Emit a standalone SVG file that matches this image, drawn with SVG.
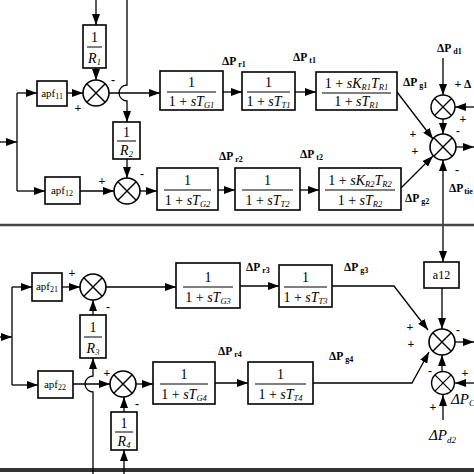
<svg xmlns="http://www.w3.org/2000/svg" width="474" height="474" viewBox="0 0 474 474">
<style>
.b{fill:#fff;stroke:#000;stroke-width:1.6}
.s{fill:#fff;stroke:#000;stroke-width:1.6}
.x{stroke:#000;stroke-width:1.4}
.c{fill:none;stroke:#000;stroke-width:1.3}
.ca{fill:none;stroke:#000;stroke-width:1.3;marker-end:url(#ah)}
.bar{stroke:#000;stroke-width:1}
text{font-family:"Liberation Serif","Times New Roman",serif;fill:#000}
.f{font-size:14px;text-anchor:middle}
.i{font-style:italic}
.sub{font-size:8.5px;font-style:italic}
.ap{font-size:11px;text-anchor:middle}
.aps{font-size:8px}
.lb{font-size:11.5px;font-weight:bold}
.lbs{font-size:8px;font-weight:bold}
.sg{font-size:12px;font-weight:bold;text-anchor:middle}
.it{font-size:15px;font-style:italic}
.its{font-size:9px;font-style:italic}
</style>
<defs>
<marker id="ah" markerWidth="11" markerHeight="8" refX="11" refY="4" orient="auto" markerUnits="userSpaceOnUse">
<path d="M0,0 L11,4 L0,8 z" fill="#000"/>
</marker>
<g id="sumsym"><circle r="13" class="s"/><path d="M-9.2,-9.2 L9.2,9.2 M-9.2,9.2 L9.2,-9.2" class="x"/></g>
</defs>
<rect width="474" height="474" fill="#fff"/>

<g id="connectors">
<path class="ca" d="M96,0 V25"/>
<path class="ca" d="M96,68 V80"/>
<path class="ca" d="M127,0 V85 A8,8 0 0 0 127,101 V122"/>
<path class="ca" d="M0,142 H17"/>
<path class="c" d="M17,93 V191"/>
<path class="ca" d="M17,93 H37"/>
<path class="ca" d="M17,191 H45"/>
<path class="ca" d="M67,93 H83"/>
<path class="ca" d="M109,93 H160"/>
<path class="ca" d="M223,92 H242"/>
<path class="ca" d="M295,92 H316"/>
<path class="ca" d="M397,92 L433,139"/>
<path class="ca" d="M443,58 V95"/>
<path class="ca" d="M474,107 H455"/>
<path class="ca" d="M443,119 V134"/>
<path class="ca" d="M456,147 H474"/>
<path class="ca" d="M401,188 L433,156"/>
<path class="ca" d="M443,226 V160"/>
<path class="ca" d="M443,226 V262"/>
<path class="ca" d="M80,191 H114"/>
<path class="ca" d="M127,159 V178"/>
<path class="ca" d="M140,191 H157"/>
<path class="ca" d="M218,190 H235"/>
<path class="ca" d="M300,190 H319"/>
<path d="M0,225 H474" stroke="#444" stroke-width="2.5"/>
<path d="M0,470 H474" stroke="#333" stroke-width="4"/>
<path class="ca" d="M0,337 H12"/>
<path class="c" d="M12,287 V385"/>
<path class="ca" d="M12,287 H32"/>
<path class="ca" d="M12,385 H38"/>
<path class="ca" d="M62,287 H80"/>
<path class="ca" d="M106,287 H176"/>
<path class="ca" d="M240,286 H279"/>
<path class="ca" d="M332,286 H394 L428,330"/>
<path class="ca" d="M93,315 V300"/>
<path class="ca" d="M93,474 V392 A8,8 0 0 1 93,376 V358"/>
<path class="ca" d="M73,384 H110"/>
<path class="ca" d="M136,384 H153"/>
<path class="ca" d="M215,383 H248"/>
<path class="ca" d="M313,383 H412 L429,352"/>
<path class="ca" d="M124,412 V397"/>
<path class="ca" d="M124,474 V450"/>
<path class="ca" d="M442,288 V329"/>
<path class="ca" d="M455,342 H474"/>
<path class="ca" d="M442,372 V355"/>
<path class="ca" d="M474,383 H455"/>
<path class="ca" d="M443,420 V395"/>
</g>

<g id="R1"><rect class="b" x="83" y="25" width="23" height="43"/><text class="f" x="94.5" y="42">1</text><line class="bar" x1="87" y1="47" x2="102" y2="47"/><text class="f" x="94.5" y="63"><tspan class="i">R</tspan><tspan class="sub" dy="2">1</tspan></text></g>
<g id="sum1"><use href="#sumsym" x="96" y="93"/></g>
<g id="apf11"><rect class="b" x="37" y="81" width="30" height="25"/><text class="ap" x="52" y="97">apf<tspan class="aps" dy="2">11</tspan></text></g>
<g id="G1"><rect class="b" x="160" y="71" width="63" height="39"/><text class="f" x="191.5" y="87">1</text><line class="bar" x1="167" y1="92" x2="216" y2="92"/><text class="f" x="191.5" y="106">1 + <tspan class="i">sT</tspan><tspan class="sub" dy="2">G1</tspan></text></g>
<g id="T1"><rect class="b" x="242" y="72" width="53" height="38"/><text class="f" x="268.5" y="87">1</text><line class="bar" x1="247" y1="92" x2="290" y2="92"/><text class="f" x="268.5" y="106">1 + <tspan class="i">sT</tspan><tspan class="sub" dy="2">T1</tspan></text></g>
<g id="Rh1"><rect class="b" x="316" y="72" width="81" height="38"/><text class="f" x="356.5" y="88">1 + <tspan class="i">sK</tspan><tspan class="sub" dy="2">R1</tspan><tspan class="i" dy="-2">T</tspan><tspan class="sub" dy="2">R1</tspan></text><line class="bar" x1="322" y1="93" x2="391" y2="93"/><text class="f" x="356.5" y="106">1 + <tspan class="i">sT</tspan><tspan class="sub" dy="2">R1</tspan></text></g>
<g id="sumd1"><use href="#sumsym" transform="translate(443,107) scale(0.92)"/></g>
<g id="summain1"><use href="#sumsym" x="443" y="147"/></g>

<g id="R2"><rect class="b" x="113" y="122" width="27" height="37"/><text class="f" x="126.5" y="137">1</text><line class="bar" x1="117" y1="141" x2="136" y2="141"/><text class="f" x="126.5" y="155"><tspan class="i">R</tspan><tspan class="sub" dy="2">2</tspan></text></g>
<g id="apf12"><rect class="b" x="45" y="177" width="35" height="27"/><text class="ap" x="62" y="194">apf<tspan class="aps" dy="2">12</tspan></text></g>
<g id="sum2"><use href="#sumsym" x="127" y="191"/></g>
<g id="G2"><rect class="b" x="157" y="168" width="61" height="42"/><text class="f" x="187.5" y="185">1</text><line class="bar" x1="164" y1="190" x2="211" y2="190"/><text class="f" x="187.5" y="205">1 + <tspan class="i">sT</tspan><tspan class="sub" dy="2">G2</tspan></text></g>
<g id="T2"><rect class="b" x="235" y="168" width="65" height="42"/><text class="f" x="267.5" y="185">1</text><line class="bar" x1="242" y1="190" x2="293" y2="190"/><text class="f" x="267.5" y="205">1 + <tspan class="i">sT</tspan><tspan class="sub" dy="2">T2</tspan></text></g>
<g id="Rh2"><rect class="b" x="319" y="168" width="82" height="42"/><text class="f" x="360" y="185">1 + <tspan class="i">sK</tspan><tspan class="sub" dy="2">R2</tspan><tspan class="i" dy="-2">T</tspan><tspan class="sub" dy="2">R2</tspan></text><line class="bar" x1="325" y1="190" x2="395" y2="190"/><text class="f" x="360" y="205">1 + <tspan class="i">sT</tspan><tspan class="sub" dy="2">R2</tspan></text></g>

<g id="apf21"><rect class="b" x="32" y="273" width="30" height="28"/><text class="ap" x="47" y="290">apf<tspan class="aps" dy="2">21</tspan></text></g>
<g id="sum3"><use href="#sumsym" x="93" y="287"/></g>
<g id="G3"><rect class="b" x="176" y="263" width="64" height="45"/><text class="f" x="208" y="282">1</text><line class="bar" x1="183" y1="287" x2="233" y2="287"/><text class="f" x="208" y="302">1 + <tspan class="i">sT</tspan><tspan class="sub" dy="2">G3</tspan></text></g>
<g id="T3"><rect class="b" x="279" y="265" width="53" height="42"/><text class="f" x="305.5" y="282">1</text><line class="bar" x1="284" y1="287" x2="327" y2="287"/><text class="f" x="305.5" y="302">1 + <tspan class="i">sT</tspan><tspan class="sub" dy="2">T3</tspan></text></g>
<g id="R3"><rect class="b" x="80" y="315" width="26" height="43"/><text class="f" x="93" y="332">1</text><line class="bar" x1="84" y1="337" x2="102" y2="337"/><text class="f" x="93" y="353"><tspan class="i">R</tspan><tspan class="sub" dy="2">3</tspan></text></g>
<g id="apf22"><rect class="b" x="38" y="371" width="35" height="27"/><text class="ap" x="55" y="388">apf<tspan class="aps" dy="2">22</tspan></text></g>
<g id="sum4"><use href="#sumsym" x="123" y="384"/></g>
<g id="G4"><rect class="b" x="153" y="362" width="62" height="42"/><text class="f" x="184" y="379">1</text><line class="bar" x1="160" y1="384" x2="208" y2="384"/><text class="f" x="184" y="399">1 + <tspan class="i">sT</tspan><tspan class="sub" dy="2">G4</tspan></text></g>
<g id="T4"><rect class="b" x="248" y="362" width="65" height="42"/><text class="f" x="280.5" y="379">1</text><line class="bar" x1="255" y1="384" x2="306" y2="384"/><text class="f" x="280.5" y="399">1 + <tspan class="i">sT</tspan><tspan class="sub" dy="2">T4</tspan></text></g>
<g id="R4"><rect class="b" x="111" y="412" width="26" height="38"/><text class="f" x="124" y="428">1</text><line class="bar" x1="115" y1="432" x2="133" y2="432"/><text class="f" x="124" y="446"><tspan class="i">R</tspan><tspan class="sub" dy="2">4</tspan></text></g>
<g id="a12"><rect class="b" x="424" y="262" width="35" height="26"/><text class="ap" x="441.5" y="279" style="font-size:12px">a12</text></g>
<g id="summain2"><use href="#sumsym" x="442" y="342"/></g>
<g id="sumd2"><use href="#sumsym" transform="translate(443,383) scale(0.88)"/></g>

<g id="labels">
<text class="lb" x="222" y="65">ΔP<tspan class="lbs" dx="2" dy="2">r1</tspan></text>
<text class="lb" x="293" y="61">ΔP<tspan class="lbs" dx="2" dy="2">t1</tspan></text>
<text class="lb" x="403" y="86">ΔP<tspan class="lbs" dx="2" dy="2">g1</tspan></text>
<text class="lb" x="437" y="52">ΔP<tspan class="lbs" dx="2" dy="2">d1</tspan></text>
<text class="lb" x="464" y="88">Δ</text>
<text class="lb" x="219" y="160">ΔP<tspan class="lbs" dx="2" dy="2">r2</tspan></text>
<text class="lb" x="300" y="158">ΔP<tspan class="lbs" dx="2" dy="2">t2</tspan></text>
<text class="lb" x="405" y="202">ΔP<tspan class="lbs" dx="2" dy="2">g2</tspan></text>
<text class="lb" x="449" y="192">ΔP<tspan class="lbs" dx="1" dy="2">tie</tspan></text>
<text class="lb" x="246" y="271">ΔP<tspan class="lbs" dx="2" dy="2">r3</tspan></text>
<text class="lb" x="344" y="271">ΔP<tspan class="lbs" dx="2" dy="2">g3</tspan></text>
<text class="lb" x="218" y="355">ΔP<tspan class="lbs" dx="2" dy="2">r4</tspan></text>
<text class="lb" x="329" y="360">ΔP<tspan class="lbs" dx="2" dy="2">g4</tspan></text>
<text class="it" x="451" y="404">ΔP<tspan class="its" dy="2">C</tspan></text>
<text class="it" x="429" y="440">ΔP<tspan class="its" dy="3">d2</tspan></text>
<text class="sg" x="78" y="112">+</text>
<text class="sg" x="113" y="84">-</text>
<text class="sg" x="102" y="185">+</text>
<text class="sg" x="142" y="178">-</text>
<text class="sg" x="458" y="88">+</text>
<text class="sg" x="463" y="123">+</text>
<text class="sg" x="458" y="135">-</text>
<text class="sg" x="413" y="138">+</text>
<text class="sg" x="415" y="155">+</text>
<text class="sg" x="457" y="174">-</text>
<text class="sg" x="72" y="277">+</text>
<text class="sg" x="108" y="311">-</text>
<text class="sg" x="107" y="377">+</text>
<text class="sg" x="137" y="408">-</text>
<text class="sg" x="410" y="331">+</text>
<text class="sg" x="411" y="348">+</text>
<text class="sg" x="458" y="334">-</text>
<text class="sg" x="430" y="375">-</text>
<text class="sg" x="465" y="377">+</text>
<text class="sg" x="433" y="411">+</text>
</g>
</svg>
